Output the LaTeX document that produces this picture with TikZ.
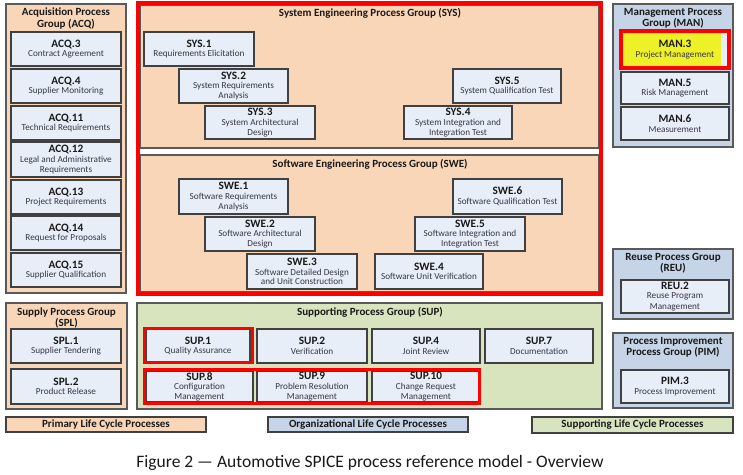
\documentclass[tikz,border=0pt]{standalone}
\usepackage{fontspec}
\setmainfont{Carlito}
\definecolor{peach}{RGB}{250,214,184}
\definecolor{orgblue}{RGB}{197,212,230}
\definecolor{supgreen}{RGB}{216,228,190}
\definecolor{procfill}{RGB}{232,238,247}
\definecolor{boxline}{RGB}{64,64,64}
\definecolor{grpline}{RGB}{90,90,90}
\definecolor{idtext}{RGB}{25,25,25}
\definecolor{desctext}{RGB}{55,55,70}
\definecolor{hiyellow}{RGB}{238,240,40}
\newcommand{\idf}{\fontsize{11.3}{11}\selectfont\bfseries\color{idtext}}
\newcommand{\pbox}[7]{%
  \node[procbox, minimum width={(#4-#2)*1pt}, minimum height={(#5-#3)*1pt}] (#1)
    at ({(#2+#4)/2},{(#3+#5)/2}) {{\idf #6}\\#7};}
\tikzset{
  procbox/.style={draw=boxline, line width=1.3pt, fill=procfill, align=center,
    inner sep=0pt, text=desctext, font=\fontsize{9.2}{9.6}\selectfont},
  grpbox/.style={draw=grpline, line width=1.4pt, inner sep=0pt},
  grptitle/.style={align=center, inner sep=0pt, text=idtext,
    font=\fontsize{11}{11.3}\selectfont\bfseries},
  redframe/.style={draw=red, line width=3.6pt},
  legendbox/.style={draw=boxline, line width=1.4pt, inner sep=0pt, text=idtext,
    font=\fontsize{11}{12}\selectfont\bfseries}
}
\begin{document}
\begin{tikzpicture}[x=1pt,y=-1pt]
\useasboundingbox (0,0) rectangle (743,474);
\fill[white] (0,0) rectangle (743,474);

% ACQ group
\node[grpbox, fill=peach, minimum width=120pt, minimum height=289pt] (acq) at (66,148.5) {};
\node[grptitle] (acqt) at (66,18.5) {Acquisition Process\\Group (ACQ)};
\pbox{acq3}{11}{32}{121}{66}{ACQ.3}{Contract Agreement}
\pbox{acq4}{11}{69}{121}{103}{ACQ.4}{Supplier Monitoring}
\pbox{acq11}{11}{106}{121}{140}{ACQ.11}{Technical Requirements}
\pbox{acq12}{11}{142}{121}{177}{ACQ.12}{Legal and Administrative\\Requirements}
\pbox{acq13}{11}{180}{121}{214}{ACQ.13}{Project Requirements}
\pbox{acq14}{11}{216}{121}{250}{ACQ.14}{Request for Proposals}
\pbox{acq15}{11}{253}{121}{287}{ACQ.15}{Supplier Qualification}

% SYS group
\node[grpbox, fill=peach, minimum width=459pt, minimum height=143pt] (sys) at (369.5,76.5) {};
\node[grptitle] (syst) at (370,13) {System Engineering Process Group (SYS)};
\pbox{sys1}{144}{32}{254}{66}{SYS.1}{Requirements Elicitation}
\pbox{sys2}{179}{69}{288}{103}{SYS.2}{System Requirements\\Analysis}
\pbox{sys3}{205}{106}{315}{139}{SYS.3}{System Architectural\\Design}
\pbox{sys4}{404}{106}{512}{139}{SYS.4}{System Integration and\\Integration Test}
\pbox{sys5}{453}{69}{561}{103}{SYS.5}{System Qualification Test}

% SWE group
\node[grpbox, fill=peach, minimum width=459pt, minimum height=137pt] (swe) at (369.5,223.5) {};
\node[grptitle] (swet) at (370,164) {Software Engineering Process Group (SWE)};
\pbox{swe1}{179}{179}{288}{214}{SWE.1}{Software Requirements\\Analysis}
\pbox{swe2}{205}{217}{315}{251}{SWE.2}{Software Architectural\\Design}
\pbox{swe3}{247}{254}{357}{289}{SWE.3}{Software Detailed Design\\and Unit Construction}
\pbox{swe4}{375}{254}{483}{289}{SWE.4}{Software Unit Verification}
\pbox{swe5}{415}{217}{525}{251}{SWE.5}{Software Integration and\\Integration Test}
\pbox{swe6}{453}{179}{562}{214}{SWE.6}{Software Qualification Test}

\node[redframe, minimum width=463pt, minimum height=291pt, inner sep=0pt] (engframe) at (369.5,148.5) {};

% MAN group
\node[grpbox, fill=orgblue, minimum width=120pt, minimum height=143pt] (man) at (673,75.5) {};
\node[grptitle] (mant) at (673,18.5) {Management Process\\Group (MAN)};
\pbox{man3}{621}{31}{729}{68}{}{}
\fill[hiyellow] (623,33) rectangle (721,66);
\node[procbox, draw=none, fill=none] (man3t) at (675,49.5) {{\idf MAN.3}\\Project Management};
\node[redframe, minimum width=108pt, minimum height=37pt, inner sep=0pt] (man3frame) at (man3) {};
\pbox{man5}{621}{72}{729}{104}{MAN.5}{Risk Management}
\pbox{man6}{621}{107}{729}{140}{MAN.6}{Measurement}

% REU group
\node[grpbox, fill=orgblue, minimum width=120pt, minimum height=70pt] (reu) at (673,284) {};
\node[grptitle] (reut) at (673,263.5) {Reuse Process Group\\(REU)};
\pbox{reu2}{621}{280}{729}{313}{REU.2}{Reuse Program\\[1.5pt]Management}

% PIM group
\node[grpbox, fill=orgblue, minimum width=120pt, minimum height=75pt] (pim) at (673,370.5) {};
\node[grptitle] (pimt) at (673,347) {Process Improvement\\Process Group (PIM)};
\pbox{pim3}{621}{370}{729}{403}{PIM.3}{Process Improvement}

% SPL group
\node[grpbox, fill=peach, minimum width=121pt, minimum height=106pt] (spl) at (66.5,356) {};
\node[grptitle] (splt) at (66.5,318) {Supply Process Group\\(SPL)};
\pbox{spl1}{11}{329}{121}{363}{SPL.1}{Supplier Tendering}
\pbox{spl2}{11}{369}{121}{404}{SPL.2}{Product Release}

% SUP group
\node[grpbox, fill=supgreen, minimum width=465pt, minimum height=106pt] (sup) at (369.5,356) {};
\node[grptitle] (supt) at (370,312) {Supporting Process Group (SUP)};
\pbox{sup1}{146}{329}{250}{363}{SUP.1}{Quality Assurance}
\pbox{sup2}{257}{329}{367}{363}{SUP.2}{Verification}
\pbox{sup4}{372}{329}{480}{363}{SUP.4}{Joint Review}
\pbox{sup7}{485}{329}{593}{363}{SUP.7}{Documentation}
\pbox{sup8}{146}{371}{253}{402}{SUP.8}{Configuration\\Management}
\pbox{sup9}{257}{371}{367}{402}{SUP.9}{Problem Resolution\\Management}
\pbox{sup10}{372}{371}{480}{402}{SUP.10}{Change Request\\Management}
\node[redframe, minimum width=108pt, minimum height=34pt, inner sep=0pt] (sup1frame) at (198.5,345.5) {};
\node[redframe, minimum width=335pt, minimum height=34pt, inner sep=0pt] (sup810frame) at (312,386.5) {};

% Legend
\node[legendbox, fill=peach, minimum width=200pt, minimum height=15pt] (legprim) at (106,424.5) {Primary Life Cycle Processes};
\node[legendbox, fill=orgblue, minimum width=200pt, minimum height=15pt] (legorg) at (368,424.5) {Organizational Life Cycle Processes};
\node[legendbox, fill=supgreen, minimum width=201pt, minimum height=16pt] (legsup) at (632.5,425) {Supporting Life Cycle Processes};

% Caption
\node[inner sep=0pt, text=idtext, font=\fontsize{17.5}{19}\selectfont] (caption) at (370,463) {Figure 2 — Automotive SPICE process reference model - Overview};
\end{tikzpicture}
\end{document}
